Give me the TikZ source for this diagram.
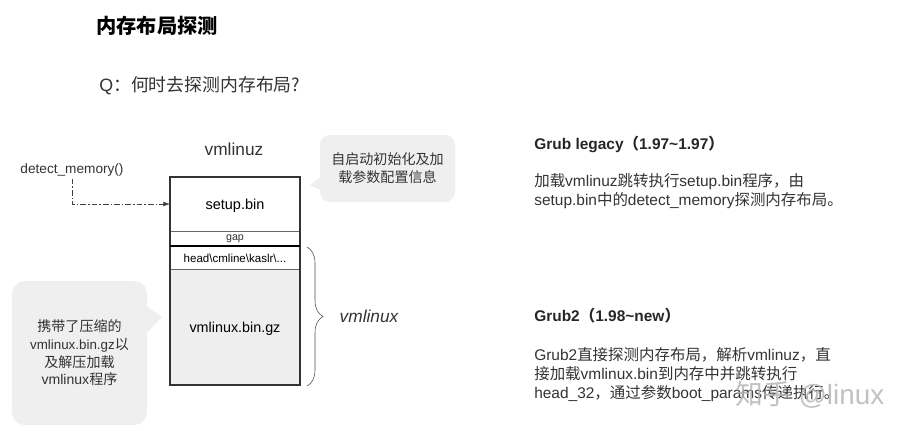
\documentclass[tikz,border=0pt]{standalone}
\usepackage{fontspec}
\setmainfont{Liberation Sans}
\newfontfamily\cjk{Noto Sans CJK SC}
\newcommand{\zh}[1]{{\cjk #1}}
\usepackage{xcolor}
\usetikzlibrary{arrows.meta}
\usetikzlibrary{decorations.pathreplacing}
\definecolor{bubblegray}{HTML}{EFEFEF}
\definecolor{boxgray}{HTML}{EEEEEE}
\definecolor{inkgray}{HTML}{333333}

\begin{document}
\begin{tikzpicture}[
        x=0.25mm, y=-0.25mm,
        >={Latex[length=1.6mm, width=1.2mm]},
        memblock/.style={draw=black!60, line width=0.3pt, minimum width=32.5mm, inner sep=0pt, text=black},
        bubble/.style={fill=bubblegray, rounded corners=7pt, inner sep=0pt, align=center, text=inkgray, font=\fontsize{10}{12.6}\selectfont},
        pointer/.style={fill=bubblegray, draw=none},
        sidetext/.style={anchor=west, align=left, inner sep=0pt, text=inkgray, font=\fontsize{11}{13.5}\selectfont},
        sidehead/.style={anchor=west, inner sep=0pt, text=black!85, font=\fontsize{11}{13}\selectfont\bfseries}
    ]
    \useasboundingbox (0,0) rectangle (905,430);

    % -- Titles --
    \node[anchor=west, inner sep=0pt, font=\fontsize{14.4}{16}\cjk\bfseries] (title) at (96,26) {内存布局探测};
    \node[anchor=west, inner sep=0pt, text=inkgray, font=\fontsize{12.7}{15}\selectfont] (question) at (99,86)
        {Q\zh{：何时去探测内存布局?}};

    % -- Memory blocks --
    \node[memblock, minimum height=13.5mm, text height=10pt, text depth=2pt, font=\fontsize{10.3}{12}\selectfont] (setup) at (235,204) {setup.bin};
    \node[memblock, minimum height=3.75mm, font=\fontsize{7.6}{9}\selectfont, text=inkgray] (gap) at (235,238.5) {gap};
    \node[memblock, minimum height=5.75mm, font=\fontsize{8.2}{10}\selectfont] (head) at (235,258) {head\textbackslash cmline\textbackslash kaslr\textbackslash ...};
    \node[memblock, fill=boxgray, minimum height=29mm, text height=10pt, text depth=2pt, font=\fontsize{10.2}{12}\selectfont] (gz) at (235,327) {vmlinux.bin.gz};

    % -- Thick frames --
    \draw[line width=1.3pt, inkgray] (setup.north west) rectangle (gz.south east);
    \draw[line width=1.6pt, black] (head.north west) -- (head.north east);

    % -- Labels --
    \node[font=\fontsize{12.3}{14}\selectfont, text=inkgray] (vmlinuz) at (234,149) {vmlinuz};
    \node[font=\fontsize{9.7}{12}\selectfont, text=inkgray, inner sep=1.5pt] (detect) at (72,170) {detect\_memory()};
    \node[font=\fontsize{12.3}{14}\selectfont\itshape, text=inkgray] (vmlinux) at (369,316) {vmlinux};

    % detect_memory -> setup.bin :
    \draw[->, black!75, dash pattern=on 4pt off 1.5pt on 1pt off 1.5pt, line width=0.35pt] (detect.south) |- (setup.west);

    % -- Brace --
    \coordinate (bracetop) at (307,247);
    \coordinate (bracebot) at (307,386);
    \draw[line width=0.4pt, black!70, decorate, decoration={brace, amplitude=4mm}] (bracetop) -- (bracebot);

    % -- Bubbles --
    \fill[pointer] (325,174) -- (310,185) -- (325,192) -- cycle;
    \node[bubble, minimum width=33.75mm, minimum height=16.75mm] (autoinit) at (387.5,168.5)
        {\zh{自启动初始化及加}\\\zh{载参数配置信息}};

    \fill[pointer] (142,303) -- (162,317) -- (142,338) -- cycle;
    \node[bubble, minimum width=33.75mm, minimum height=36mm, rounded corners=9pt] (carry) at (79.5,353)
        {\zh{携带了压缩的}\\{\fontsize{9.5}{12.6}\selectfont vmlinux.bin.gz}\zh{以}\\\zh{及解压加载}\\vmlinux\zh{程序}};

    % -- Right column --
    \node[sidehead] (legacy) at (534,144) {Grub legacy{\cjk\bfseries（}1.97\textasciitilde 1.97{\cjk\bfseries）}};
    \node[sidetext] (legacytext) at (534,191.5)
        {\zh{加载}vmlinuz\zh{跳转执行}setup.bin\zh{程序，由}\\setup.bin\zh{中的}detect\_memory\zh{探测内存布局。}};

    \node[sidehead] (grubnew) at (534,316) {Grub2{\cjk\bfseries（}1.98\textasciitilde new{\cjk\bfseries）}};
    \node[sidetext] (grubtext) at (534,375)
        {Grub2\zh{直接探测内存布局，解析}vmlinuz\zh{，直}\\\zh{接加载}vmlinux.bin\zh{到内存中并跳转执行}\\head\_32\zh{，通过参数}boot\_params\zh{传递执行。}};

    % -- Watermark --
    \node[anchor=west, inner sep=0pt, text=black!30, opacity=0.8, font=\fontsize{19.8}{22}\selectfont] (mark) at (735,395) {\zh{知乎} @linux};

\end{tikzpicture}
\end{document}
